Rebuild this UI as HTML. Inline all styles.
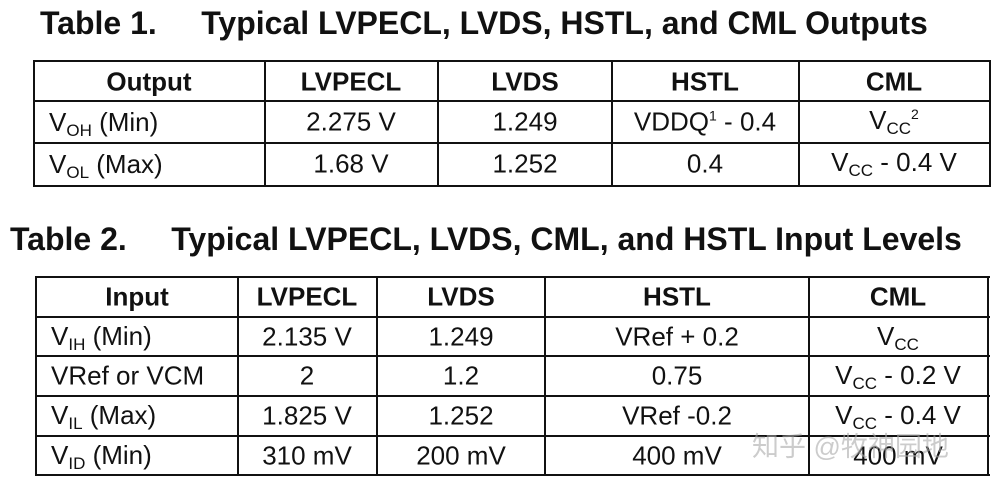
<!DOCTYPE html>
<html><head><meta charset="utf-8"><style>
body{margin:0;width:993px;height:483px;background:#fff;position:relative;overflow:hidden;font-family:"Liberation Sans",Arial,sans-serif;color:#111}
.h{position:absolute;background:#111;height:2px}
.v{position:absolute;background:#111;width:2px}
.t{position:absolute;font-size:26px;white-space:nowrap;transform:translate(-50%,-50%)}
.l{position:absolute;font-size:26px;white-space:nowrap;transform:translateY(-50%)}
.b{font-weight:bold;font-size:26px}
.title{position:absolute;font-weight:bold;font-size:32px;white-space:nowrap}
sub{font-size:17px;vertical-align:-5px}
sup{font-size:14px;vertical-align:10px}
.wm{position:absolute;left:752px;top:425px;font-size:27px;color:rgba(170,170,170,0.6);font-family:"Liberation Sans","Noto Sans CJK SC",sans-serif;white-space:nowrap}
</style></head><body>
<div class="title" style="left:40px;top:5px">Table 1.&nbsp;&nbsp;&nbsp;&nbsp;&nbsp;Typical LVPECL, LVDS, HSTL, and CML Outputs</div>
<div class="title" style="left:10px;top:221px">Table 2.&nbsp;&nbsp;&nbsp;&nbsp;&nbsp;Typical LVPECL, LVDS, CML, and HSTL Input Levels</div>

<div class="h" style="left:33px;width:958px;top:60px"></div>
<div class="h" style="left:33px;width:958px;top:100px"></div>
<div class="h" style="left:33px;width:958px;top:142px"></div>
<div class="h" style="left:33px;width:958px;top:185px"></div>
<div class="v" style="left:33px;top:60px;height:127px"></div>
<div class="v" style="left:264px;top:60px;height:127px"></div>
<div class="v" style="left:437px;top:60px;height:127px"></div>
<div class="v" style="left:611px;top:60px;height:127px"></div>
<div class="v" style="left:798px;top:60px;height:127px"></div>
<div class="v" style="left:989px;top:60px;height:127px"></div>

<div class="t b" style="left:149px;top:82px">Output</div>
<div class="t b" style="left:351px;top:82px">LVPECL</div>
<div class="t b" style="left:525px;top:82px">LVDS</div>
<div class="t b" style="left:705px;top:82px">HSTL</div>
<div class="t b" style="left:894px;top:82px">CML</div>
<div class="l" style="left:49px;top:124px">V<sub>OH</sub> (Min)</div>
<div class="t" style="left:351px;top:122px">2.275 V</div>
<div class="t" style="left:525px;top:122px">1.249</div>
<div class="t" style="left:705px;top:122px">VDDQ<sup>1</sup> - 0.4</div>
<div class="t" style="left:894px;top:122px">V<sub>CC</sub><sup>2</sup></div>
<div class="l" style="left:49px;top:166px">V<sub>OL</sub> (Max)</div>
<div class="t" style="left:351px;top:164px">1.68 V</div>
<div class="t" style="left:525px;top:164px">1.252</div>
<div class="t" style="left:705px;top:164px">0.4</div>
<div class="t" style="left:894px;top:164px">V<sub>CC</sub> - 0.4 V</div>

<div class="h" style="left:35px;width:955px;top:276px"></div>
<div class="h" style="left:35px;width:955px;top:316px"></div>
<div class="h" style="left:35px;width:955px;top:355px"></div>
<div class="h" style="left:35px;width:955px;top:395px"></div>
<div class="h" style="left:35px;width:955px;top:435px"></div>
<div class="h" style="left:35px;width:955px;top:474px"></div>
<div class="v" style="left:35px;top:276px;height:200px"></div>
<div class="v" style="left:237px;top:276px;height:200px"></div>
<div class="v" style="left:376px;top:276px;height:200px"></div>
<div class="v" style="left:544px;top:276px;height:200px"></div>
<div class="v" style="left:808px;top:276px;height:200px"></div>
<div class="v" style="left:987px;top:276px;height:200px"></div>

<div class="t b" style="left:137px;top:297px">Input</div>
<div class="t b" style="left:307px;top:297px">LVPECL</div>
<div class="t b" style="left:461px;top:297px">LVDS</div>
<div class="t b" style="left:677px;top:297px">HSTL</div>
<div class="t b" style="left:898px;top:297px">CML</div>

<div class="l" style="left:51px;top:338px">V<sub>IH</sub> (Min)</div>
<div class="t" style="left:307px;top:337px">2.135 V</div>
<div class="t" style="left:461px;top:337px">1.249</div>
<div class="t" style="left:677px;top:337px">VRef + 0.2</div>
<div class="t" style="left:898px;top:338px">V<sub>CC</sub></div>

<div class="l" style="left:51px;top:376px">VRef or VCM</div>
<div class="t" style="left:307px;top:376px">2</div>
<div class="t" style="left:461px;top:376px">1.2</div>
<div class="t" style="left:677px;top:376px">0.75</div>
<div class="t" style="left:898px;top:377px">V<sub>CC</sub> - 0.2 V</div>

<div class="l" style="left:51px;top:417px">V<sub>IL</sub> (Max)</div>
<div class="t" style="left:307px;top:416px">1.825 V</div>
<div class="t" style="left:461px;top:416px">1.252</div>
<div class="t" style="left:677px;top:416px">VRef -0.2</div>
<div class="t" style="left:898px;top:417px">V<sub>CC</sub> - 0.4 V</div>

<div class="l" style="left:51px;top:457px">V<sub>ID</sub> (Min)</div>
<div class="t" style="left:307px;top:456px">310 mV</div>
<div class="t" style="left:461px;top:456px">200 mV</div>
<div class="t" style="left:677px;top:456px">400 mV</div>
<div class="t" style="left:898px;top:456px">400 mV</div>

<div class="wm">知乎 @牧神园地</div>
</body></html>
